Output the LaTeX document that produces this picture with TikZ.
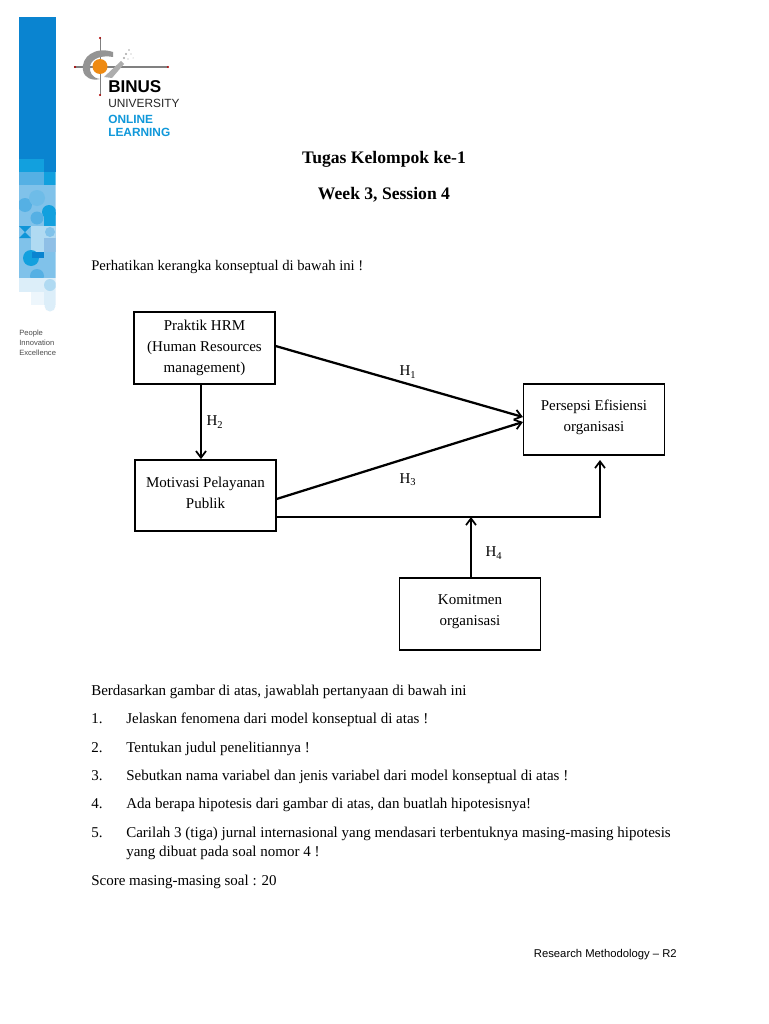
\documentclass[tikz,border=0pt]{standalone}
\usepackage{fontspec}
\setmainfont{Liberation Serif}
\setsansfont{Liberation Sans}
\usetikzlibrary{arrows.meta,calc}
\definecolor{binusblue}{HTML}{0A84D0}
\definecolor{b1}{HTML}{12A0DE}
\definecolor{b2}{HTML}{55B0E4}
\definecolor{b3}{HTML}{80C2EA}
\definecolor{b4}{HTML}{B0DAF2}
\definecolor{b5}{HTML}{DCEEF9}
\definecolor{b6}{HTML}{EDF6FC}
\definecolor{b7}{HTML}{8FBFE6}
\definecolor{logoorange}{HTML}{EE8A12}
\tikzset{
  box/.style={draw=black,line width=1.1pt,minimum width=105.5pt,align=center,inner sep=0pt,font=\fontsize{11.25}{15.5}\selectfont},
  conn/.style={draw=black,line width=1.7pt,-{Straight Barb[length=5pt,width=7.5pt,line width=1.3pt]}},
  lab/.style={font=\fontsize{11.25}{12}\selectfont,inner sep=0pt},
  body/.style={anchor=base west,inner sep=0pt,font=\fontsize{11.25}{12}\selectfont},
  head/.style={anchor=base,inner sep=0pt,font=\fontsize{13.2}{15}\selectfont\bfseries},
  logotxt/.style={anchor=base west,inner sep=0pt},
  tag/.style={anchor=base west,inner sep=0pt,text=black!70,font=\sffamily\fontsize{5.7}{6}\selectfont}
}
\newcommand{\subn}[1]{\textsubscript{#1}}
\begin{document}
\begin{tikzpicture}[x=0.75pt,y=-0.75pt]
\useasboundingbox (0,0) rectangle (768,1024);
\fill[white] (0,0) rectangle (768,1024);
% sidebar
\fill[binusblue] (19,17) rectangle (55.5,172);
\begin{scope}
\clip (19,159) rectangle (55.5,305);
\fill[b1] (19,159) rectangle (44,172);
\fill[b2] (19,172) rectangle (44,185);
\fill[b1] (44,172) rectangle (55.5,185);
\fill[b3] (19,185) rectangle (55.5,278);
\fill[b2] (25,205) circle (7);
\fill[b2!85!white] (37,198) circle (8);
\fill[b1] (49,212) circle (7);
\fill[b1] (44,212) rectangle (55.5,226);
\fill[b2] (37,218) circle (6.5);
\fill[b1!60!binusblue] (19,226) -- (31,226) -- (25,232) -- (31,238) -- (19,238) -- (25,232) -- cycle;
\fill[b4] (31,226) rectangle (44,238);
\fill[b4] (44,226) rectangle (55.5,238);
\fill[b3] (50,232) circle (5);
\fill[b7] (44,238) rectangle (55.5,252);
\fill[b4] (31,238) rectangle (44,252);
\fill[b1] (31,258) circle (8);
\fill[binusblue] (32,252) rectangle (44,257.5);
\fill[b2] (37,276) circle (7);
\fill[b5] (19,278) rectangle (55.5,292);
\fill[b4] (50,285) circle (6);
\fill[b6] (31,292) rectangle (44,305);
\fill[b5] (44,292) rectangle (55.5,305);
\end{scope}
\fill[b5] (50,306) circle (5.5);
% tags
\node[tag] (t1) at (19,335) {People};
\node[tag] (t2) at (19,345) {Innovation};
\node[tag] (t3) at (19,355) {Excellence};
% logo
\draw[black!50,line width=0.7pt] (100,37) -- (100,96);
\draw[black!50,line width=0.8pt] (74,67) -- (168,67);
\fill[red!70!black] (100,38) circle (1.1) (100,95) circle (1.1) (75,67) circle (1.1) (168,67) circle (1.1);
\fill[black!42] (113,52) .. controls (95,46) and (81,57) .. (83,70) .. controls (84,78) and (92,81) .. (100,79) .. controls (92,78) and (89,72) .. (90,66) .. controls (92,58) and (102,55) .. (113,57) -- cycle;
\fill[black!32] (104,77) -- (121,61) -- (124,64) -- (112,78) -- cycle;
\fill[black!35] (126,54) circle (1.1) (129,50) circle (0.9) (131,54) circle (0.7) (124,58) circle (1.2) (128,59) circle (0.7) (133,58) circle (0.5);
\fill[logoorange] (100,66.5) circle (7.5);
\node[logotxt,font=\sffamily\bfseries\fontsize{12.8}{14}\selectfont] (l1) at (108,93) {BINUS};
\node[logotxt,text=black!85,font=\sffamily\fontsize{8.9}{10}\selectfont] (l2) at (108,108) {UNIVERSITY};
\node[logotxt,text=b1!70!binusblue,font=\sffamily\bfseries\fontsize{8.9}{10}\selectfont] (l3) at (108,123) {ONLINE};
\node[logotxt,text=b1!70!binusblue,font=\sffamily\bfseries\fontsize{8.9}{10}\selectfont] (l4) at (108,137) {LEARNING};
% headings
\node[head] (h1) at (384,163) {Tugas Kelompok ke-1};
\node[head] (h2) at (384,199) {Week 3, Session 4};
\node[body,font=\fontsize{11}{12}\selectfont] (intro) at (91,270) {Perhatikan kerangka konseptual di bawah ini !};
% boxes
\node[box,minimum height=54pt] (A) at (204.5,348) {Praktik HRM\\(Human Resources\\management)};
\node[box,minimum height=53.5pt] (B) at (205.5,495.5) {Motivasi Pelayanan\\Publik\\[-11pt]};
\node[box,minimum height=53.5pt] (C) at (594,419.5) {Persepsi Efisiensi\\organisasi\\[-10pt]};
\node[box,minimum height=54pt] (D) at (470,614) {Komitmen\\organisasi\\[-10pt]};
% connectors
\coordinate (Ca) at ($(C.west)+(0,-2.5)$);
\coordinate (Cb) at ($(C.west)+(0,2.5)$);
\coordinate (Cc) at (600,460);
\coordinate (J) at (471,517);
\draw[conn] ($(A.east)+(0,-2)$) -- (Ca);
\draw[conn] ($(B.east)+(0,3.5)$) -- (Cb);
\draw[conn] (A.south -| 201,0) -- (B.north -| 201,0);
\draw[conn] (B.east |- J) -| (Cc);
\draw[conn] (D.north -| J) -- (J);
% labels
\node[lab] (H1) at (408,372) {H\subn{1}};
\node[lab] (H2) at (215,422) {H\subn{2}};
\node[lab] (H3) at (408,480) {H\subn{3}};
\node[lab] (H4) at (494,553) {H\subn{4}};
% questions
\node[body] (q0) at (91,695) {Berdasarkan gambar di atas, jawablah pertanyaan di bawah ini};
\node[body] (n1) at (91,723) {1.};
\node[body] (q1) at (126,723) {Jelaskan fenomena dari model konseptual di atas !};
\node[body] (n2) at (91,752) {2.};
\node[body] (q2) at (126,752) {Tentukan judul penelitiannya !};
\node[body] (n3) at (91,780) {3.};
\node[body] (q3) at (126,780) {Sebutkan nama variabel dan jenis variabel dari model konseptual di atas !};
\node[body] (n4) at (91,808) {4.};
\node[body] (q4) at (126,808) {Ada berapa hipotesis dari gambar di atas, dan buatlah hipotesisnya!};
\node[body] (n5) at (91,837) {5.};
\node[body] (q5) at (126,837) {Carilah 3 (tiga) jurnal internasional yang mendasari terbentuknya masing-masing hipotesis};
\node[body] (q5b) at (126,856) {yang dibuat pada soal nomor 4 !};
\node[body] (score) at (91,885) {Score masing-masing soal : 20};
\node[anchor=base east,inner sep=0pt,font=\sffamily\fontsize{8.45}{10}\selectfont] (foot) at (677,957) {Research Methodology -- R2};
\end{tikzpicture}
\end{document}
